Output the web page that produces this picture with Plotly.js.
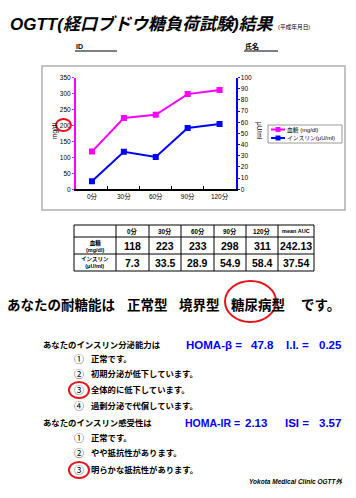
<!DOCTYPE html>
<html><head><meta charset="utf-8">
<script src="https://cdn.plot.ly/plotly-3.0.1.min.js"></script>
<style>html,body{margin:0;padding:0;background:#fff;}#chart{width:356px;height:498px;}</style>
</head><body><div id="chart"></div>
<script>
// ---- data ----
const timeLabels = ['0分', '30分', '60分', '90分', '120分'];
const glucose = [118, 223, 233, 298, 311];
const insulin = [7.3, 33.5, 28.9, 54.9, 58.4];
const meanAUC = [242.13, 37.54];
const seriesNames = ['血糖 (mg/dl)', 'インスリン(μU/ml)'];
const rowLabels = ['血糖<br>(mg/dl)', 'インスリン<br>(μU/ml)'];
const aucLabel = 'mean AUC';
const homaBeta = 47.8, indexII = 0.25, homaIR = 2.13, indexISI = 3.57;
const secretionItems = ['正常です。', '初期分泌が低下しています。', '全体的に低下しています。', '過剰分泌で代償しています。'];
const sensitivityItems = ['正常です。', 'やや抵抗性があります。', '明らかな抵抗性があります。'];
const circledNums = ['①', '②', '③', '④'];

// ---- helpers ----
const W = 356, H = 498;
const px = x => x / W, py = y => 1 - y / H;
const FONT = 'Liberation Sans, Noto Sans CJK JP, sans-serif';
const MAG = '#ff00ff', BLU = '#0000ff';
const colors = [MAG, BLU];

const traces = [
  {type:'scatter', mode:'lines+markers', x: timeLabels, y: glucose, name: seriesNames[0], showlegend:false,
   line:{color:MAG, width:2}, marker:{symbol:'square', size:6, color:MAG}, xaxis:'x', yaxis:'y'},
  {type:'scatter', mode:'lines+markers', x: timeLabels, y: insulin, name: seriesNames[1], showlegend:false,
   line:{color:BLU, width:2}, marker:{symbol:'square', size:6, color:BLU}, xaxis:'x', yaxis:'y2'}
];

const ann = [];
const shapes = [];
function T(text, x, y, size, opts) {
  ann.push(Object.assign({text:text, x:px(x), y:py(y), xref:'paper', yref:'paper', showarrow:false,
    xanchor:'left', yanchor:'middle', borderpad:0, font:{family:FONT, size:size, color:'#000'}}, opts||{}));
}
function L(x0, y0, x1, y1, color, width) {
  shapes.push({type:'line', xref:'paper', yref:'paper', x0:px(x0), x1:px(x1), y0:py(y0), y1:py(y1), line:{color:color, width:width}});
}

// title block
T('OGTT(経口ブドウ糖負荷試験)結果', 9, 24, 17, {font:{family:FONT, size:17, color:'#000', weight:'bold', style:'italic'}});
T('(平成年月日)', 277, 27, 5.7);
T('<b>ID</b>', 75, 47, 7);
T('<b>氏名</b>', 244, 47, 7);
L(75, 51, 117, 51, '#000', 1);
L(244, 51, 278, 51, '#000', 1);

// chart frame
shapes.push({type:'rect', xref:'paper', yref:'paper', x0:px(42), x1:px(345), y0:py(210), y1:py(66), line:{color:'#b0b0b0', width:1.5}});
// axis titles
T('mg/dl', 55, 131, 6.5, {xanchor:'center', textangle:-90});
T('μU/ml', 259, 131, 6.5, {xanchor:'center', textangle:90});

// legend (custom box)
shapes.push({type:'rect', xref:'paper', yref:'paper', x0:px(268), x1:px(342), y0:py(143), y1:py(125), line:{color:'#999', width:1}, fillcolor:'#fff'});
seriesNames.forEach((n, i) => {
  const yy = 129.5 + i * 8.5;
  L(271, yy, 285, yy, colors[i], 2);
  shapes.push({type:'rect', xref:'paper', yref:'paper', x0:px(275.5), x1:px(280.5), y0:py(yy+2.5), y1:py(yy-2.5), line:{width:0}, fillcolor:colors[i]});
  T(n, 286, yy, 5.8);
});

// table
const colX = [74, 116, 149, 181, 214, 246, 278, 314];
const rowY = [225, 237, 254, 271];
colX.forEach(x => L(x, rowY[0], x, rowY[3], '#000', 1));
rowY.forEach(y => L(colX[0], y, colX[colX.length-1], y, '#000', 1));
const cx = i => (colX[i] + colX[i+1]) / 2;
const cy = r => (rowY[r] + rowY[r+1]) / 2;
const hdrF = {family:FONT, size:6.3, color:'#000', weight:'bold'};
const numF = {family:FONT, size:10.5, color:'#000', weight:'bold'};
timeLabels.forEach((t, i) => T(t, cx(i+1), cy(0), 6.3, {xanchor:'center', font:hdrF}));
T(aucLabel, cx(6), cy(0), 5.5, {xanchor:'center', font:{family:FONT, size:5.5, color:'#000', weight:'bold'}});
rowLabels.forEach((t, r) => T(t, cx(0), cy(r+1), 5.5, {xanchor:'center', font:{family:FONT, size:5.5, color:'#000', weight:'bold'}}));
glucose.forEach((v, i) => T(String(v), cx(i+1), cy(1), 10.5, {xanchor:'center', font:numF}));
insulin.forEach((v, i) => T(v.toFixed(1), cx(i+1), cy(2), 10.5, {xanchor:'center', font:numF}));
meanAUC.forEach((v, r) => T(v.toFixed(2), cx(6), cy(r+1), 10.5, {xanchor:'center', font:numF}));

// main sentence
const mainSeg = [['あなたの耐糖能は',6],['正常型',126],['境界型',178],['糖尿病型',230],['です。',300]];
mainSeg.forEach(s => T(s[0], s[1], 305, 13.5, {font:{family:FONT, size:13.5, color:'#000', weight:'bold'}}));

// section 1
T('<b>あなたのインスリン分泌能力は</b>', 42, 345, 8.4);
const blueF = {family:FONT, size:11.5, color:BLU, weight:'bold'};
T('HOMA-β =', 185, 345, 11.5, {font:blueF});
T(homaBeta.toFixed(1), 250, 345, 11.5, {font:blueF});
T('I.I. =', 285, 345, 11.5, {font:blueF});
T(indexII.toFixed(2), 318, 345, 11.5, {font:blueF});
const y1 = [359, 374, 390, 406];
secretionItems.forEach((t,i) => {
  T(circledNums[i], 79, y1[i], 10, {xanchor:'center', font:{family:FONT, size:10, color:'#000'}});
  T('<b>'+t+'</b>', 90, y1[i], 8.3);
});
// section 2
T('<b>あなたのインスリン感受性は</b>', 42, 423, 8.4);
T('HOMA-IR =', 184, 423, 10.5, {font:{family:FONT, size:10.5, color:BLU, weight:'bold'}});
T(homaIR.toFixed(2), 244, 423, 11.5, {font:blueF});
T('ISI =', 284, 423, 11.5, {font:blueF});
T(indexISI.toFixed(2), 318, 423, 11.5, {font:blueF});
const y2 = [438, 453, 470];
sensitivityItems.forEach((t,i) => {
  T(circledNums[i], 79, y2[i], 10, {xanchor:'center', font:{family:FONT, size:10, color:'#000'}});
  T('<b>'+t+'</b>', 90, y2[i], 8.3);
});
T('Yokota Medical Clinic OGTT外', 248, 481, 6.5, {font:{family:FONT, size:6.5, color:'#000', weight:'bold', style:'italic'}});

// red marks
const red = {color:'#e8141b', width:2};
[[56,119,71,131],[225,281,276,322],[69,382,89,398],[69,462,89,478]].forEach(c =>
  shapes.push({type:'circle', xref:'paper', yref:'paper', x0:px(c[0]), x1:px(c[2]), y0:py(c[3]), y1:py(c[1]), line:red}));

const tickF = {family:FONT, size:6.5, color:'#000'};
const layout = {
  width:W, height:H, margin:{l:0,r:0,t:0,b:0}, paper_bgcolor:'#fff', plot_bgcolor:'#fff',
  font:{family:FONT}, showlegend:false,
  xaxis:{domain:[px(76), px(235.5)], type:'category', range:[-0.5,4.5], showline:true, linecolor:'#000', linewidth:2,
    ticks:'inside', ticklen:3, tickcolor:'#000', tickson:'boundaries', tickfont:tickF, showgrid:false, zeroline:false, fixedrange:true},
  yaxis:{domain:[py(189.3), py(77.5)], range:[0,350], dtick:50, showline:true, linecolor:MAG, linewidth:2,
    ticks:'outside', ticklen:2, tickcolor:MAG, tickfont:tickF, showgrid:false, zeroline:false},
  yaxis2:{overlaying:'y', side:'right', anchor:'x', range:[0,100], dtick:10, showline:true, linecolor:BLU, linewidth:2,
    ticks:'outside', ticklen:2, tickcolor:BLU, tickfont:tickF, showgrid:false, zeroline:false},
  annotations:ann, shapes:shapes
};
Plotly.newPlot('chart', traces, layout, {displayModeBar:false, staticPlot:true});
</script></body></html>
